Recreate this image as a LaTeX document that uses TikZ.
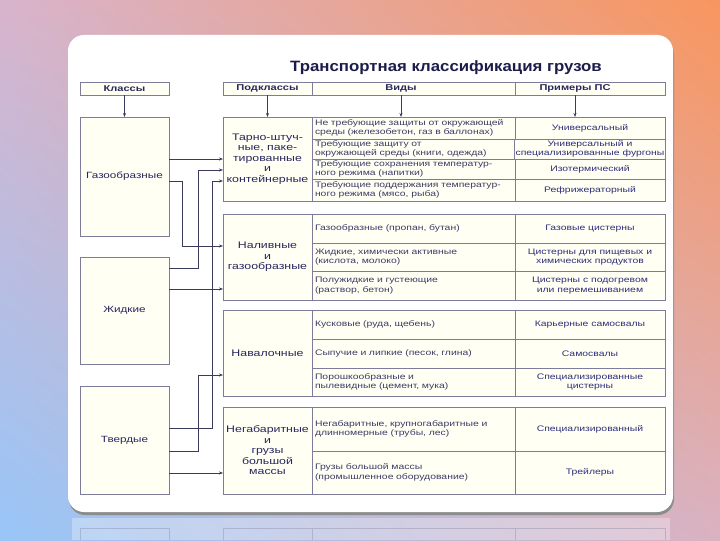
\documentclass[tikz,border=0pt]{standalone}
\usepackage{fontspec}
\usepackage{tikz}
\usetikzlibrary{arrows.meta,shadings}
\setmainfont{Liberation Sans}
\newfontfamily\widefont[FakeStretch=1.3]{Liberation Sans}
\newfontfamily\titlefont[FakeStretch=1.12]{Liberation Sans}
\definecolor{bgtl}{HTML}{D8B4CC}
\definecolor{bgtr}{HTML}{F8965E}
\definecolor{bgbl}{HTML}{98C6F8}
\definecolor{bgbr}{HTML}{DAB2C2}
\definecolor{framec}{HTML}{7D7D9B}
\definecolor{cellc}{HTML}{FFFFF4}
\definecolor{textc}{HTML}{27275E}
\definecolor{vidc}{HTML}{3C3C66}
\definecolor{primc}{HTML}{2E2E7A}
\definecolor{linec}{HTML}{3A3A5A}
\definecolor{titlec}{HTML}{1C1C4A}

\begin{document}
\begin{tikzpicture}[x=1pt,y=-1pt,>={Stealth[length=4pt,width=3pt]},
  box/.style={draw=framec,fill=cellc,line width=.6pt,inner sep=2pt,outer sep=0pt,text=textc},
  head/.style={box,minimum height=13pt,inner sep=1pt,font=\widefont\fontsize{8.5}{9}\selectfont\bfseries},
  klass/.style={box,minimum width=89pt,font=\widefont\fontsize{9}{11}\selectfont},
  sub/.style={box,minimum width=89pt,align=center,font=\widefont\fontsize{9.5}{10.5}\selectfont},
  vid/.style={box,text width=197pt,inner xsep=3pt,inner ysep=.5pt,align=left,text=vidc,font=\widefont\fontsize{8}{9.3}\selectfont},
  prim/.style={box,minimum width=150pt,inner xsep=1pt,inner ysep=.5pt,align=center,text=primc,font=\widefont\fontsize{8}{9.3}\selectfont},
  link/.style={->,draw=linec,line width=.6pt}]

\shade[upper left=bgtl,upper right=bgtr,lower left=bgbl,lower right=bgbr] (0,0) rectangle (720,540);
\fill[white,opacity=.3] (72,518) rectangle (670,540);
\draw[framec,opacity=.35,line width=.6pt] (80,540) |- (169,528) -- (169,540)
  (223,540) |- (665,528) -- (665,540) (312,528) -- (312,540) (515,528) -- (515,540);
\fill[black!45,rounded corners=16pt] (69,38) rectangle (674,515);
\fill[white,rounded corners=16pt] (68,35) rectangle (673,512);

\node[font=\titlefont\fontsize{15}{17}\selectfont\bfseries,text=titlec] (title) at (446,68) {Транспортная классификация грузов};

\node[head,minimum width=89pt] (kl) at (124.5,88.5) {Классы};
\node[head,minimum width=89pt] (podkl) at (267.5,88.5) {Подклассы};
\node[head,minimum width=203pt] (vidc) at (413.5,88.5) {};
\node[head,minimum width=150pt] (primc) at (590,88.5) {};
\node[head,draw=none,fill=none] (vidy) at (401,88.5) {Виды};
\node[head,draw=none,fill=none] (prim) at (575,88.5) {Примеры ПС};

\node[klass,minimum height=119pt] (gaz) at (124.5,176.5) {Газообразные};
\node[klass,minimum height=107pt] (zhid) at (124.5,310.5) {Жидкие};
\node[klass,minimum height=108pt] (tver) at (124.5,440) {Твердые};

\node[sub,minimum height=84pt] (tar) at (267.5,159) {Тарно-штуч-\\ные, паке-\\тированные\\и\\контейнерные};
\node[sub,minimum height=86pt] (nal) at (267.5,257) {Наливные\\и\\газообразные};
\node[sub,minimum height=86pt] (nav) at (267.5,353) {Навалочные};
\node[sub,minimum height=87pt] (neg) at (267.5,450.5) {Негабаритные\\и\\грузы\\большой\\массы};

\node[vid,minimum height=22pt] (v1) at (413.5,128) {Не требующие защиты от окружающей\\среды (железобетон, газ в баллонах)};
\node[vid,minimum height=20pt] (v2) at (413.5,149) {Требующие защиту от\\окружающей среды (книги, одежда)};
\node[vid,minimum height=20pt] (v3) at (413.5,169) {Требующие сохранения температур-\\ного режима (напитки)};
\node[vid,minimum height=22pt] (v4) at (413.5,190) {Требующие поддержания температур-\\ного режима (мясо, рыба)};
\node[vid,minimum height=29pt] (v5) at (413.5,228.5) {Газообразные (пропан, бутан)};
\node[vid,minimum height=28pt] (v6) at (413.5,257) {Жидкие, химически активные\\(кислота, молоко)};
\node[vid,minimum height=29pt] (v7) at (413.5,285.5) {Полужидкие и густеющие\\(раствор, бетон)};
\node[vid,minimum height=29pt] (v8) at (413.5,324.5) {Кусковые (руда, щебень)};
\node[vid,minimum height=29pt] (v9) at (413.5,353.5) {Сыпучие и липкие (песок, глина)};
\node[vid,minimum height=28pt] (v10) at (413.5,382) {Порошкообразные и\\пылевидные (цемент, мука)};
\node[vid,minimum height=44pt] (v11) at (413.5,429) {Негабаритные, крупногабаритные и\\длинномерные (трубы, лес)};
\node[vid,minimum height=43pt] (v12) at (413.5,472.5) {Грузы большой массы\\(промышленное оборудование)};

\node[prim,minimum height=22pt] (p1) at (590,128) {Универсальный};
\node[prim,minimum height=20pt] (p2) at (590,149) {Универсальный и\\специализированные фургоны};
\node[prim,minimum height=20pt] (p3) at (590,169) {Изотермический};
\node[prim,minimum height=22pt] (p4) at (590,190) {Рефрижераторный};
\node[prim,minimum height=29pt] (p5) at (590,228.5) {Газовые цистерны};
\node[prim,minimum height=28pt] (p6) at (590,257) {Цистерны для пищевых и\\химических продуктов};
\node[prim,minimum height=29pt] (p7) at (590,285.5) {Цистерны с подогревом\\или перемешиванием};
\node[prim,minimum height=29pt] (p8) at (590,324.5) {Карьерные самосвалы};
\node[prim,minimum height=29pt] (p9) at (590,353.5) {Самосвалы};
\node[prim,minimum height=28pt] (p10) at (590,382) {Специализированные\\цистерны};
\node[prim,minimum height=44pt] (p11) at (590,429) {Специализированный};
\node[prim,minimum height=43pt] (p12) at (590,472.5) {Трейлеры};

\draw[link] (kl) -- (gaz);
\draw[link] (podkl) -- (tar);
\draw[link] (vidy |- vidc.south) -- (vidy |- v1.north);
\draw[link] (prim |- primc.south) -- (prim |- p1.north);

\draw[link] ([yshift=17.5pt]gaz.east) -- (tar.west);
\draw[link] ([yshift=-4.5pt]gaz.east) -- ++(13pt,0) |- ([yshift=11pt]nal.west);
\draw[link] ([yshift=42.5pt]zhid.east) -- ++(29pt,0) |- ([yshift=-11pt]tar.west);
\draw[link] ([yshift=21.5pt]zhid.east) -- ([yshift=-32pt]nal.west);
\draw[link] ([yshift=12pt]tver.east) -- ++(43pt,0) |- ([yshift=-22pt]tar.west);
\draw[link] ([yshift=-11pt]tver.east) -- ++(29pt,0) |- ([yshift=-22pt]nav.west);
\draw[link] ([yshift=-33pt]tver.east) -- ([yshift=-22.5pt]neg.west);
\end{tikzpicture}
\end{document}
